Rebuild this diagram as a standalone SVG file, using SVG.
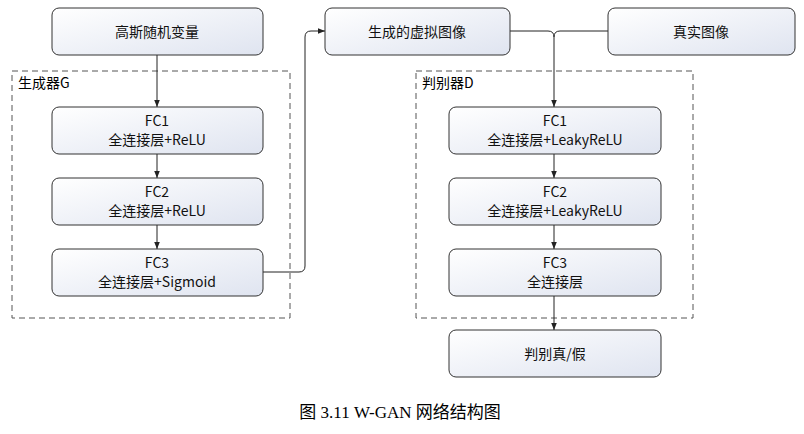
<svg xmlns="http://www.w3.org/2000/svg" width="804" height="434" viewBox="0 0 804 434">
<defs>
<linearGradient id="g" x1="0" y1="0" x2="1" y2="1"><stop offset="0" stop-color="#ffffff"/><stop offset="1" stop-color="#dfe4f0"/></linearGradient>
<marker id="a" viewBox="0 0 10 10" refX="10" refY="5" markerWidth="7" markerHeight="7" orient="auto"><path d="M0,1 L10,5 L0,9 z" fill="#222"/></marker>
<style>
.n{fill:url(#g);stroke:#333;stroke-width:1}
.t{font-family:"Noto Sans CJK SC","Liberation Sans",sans-serif;font-size:14px;fill:#111;text-anchor:middle}
.d{fill:none;stroke:#555;stroke-dasharray:6,4;stroke-width:1}
.c{fill:none;stroke:#222;stroke-width:1}
</style>
</defs>
<rect class="d" x="12" y="71" width="278" height="247"/>
<text x="18" y="88" style="font-family:'Noto Sans CJK SC',sans-serif;font-size:14px">生成器G</text>
<rect class="d" x="416" y="71" width="277" height="247"/>
<text x="422" y="88" style="font-family:'Noto Sans CJK SC',sans-serif;font-size:14px">判别器D</text>
<g id="connectors">
<path class="c" d="M157,55 V107" marker-end="url(#a)"/>
<path class="c" d="M157,154 V178" marker-end="url(#a)"/>
<path class="c" d="M157,225 V249" marker-end="url(#a)"/>
<path class="c" d="M263,272 H299 Q305,272 305,266 V37 Q305,31 311,31 H325" marker-end="url(#a)"/>
<path class="c" d="M510,31 H548 Q554,31 554,37 V107" marker-end="url(#a)"/>
<path class="c" d="M608,31 H560 Q554,31 554,37"/>
<path class="c" d="M554,154 V178" marker-end="url(#a)"/>
<path class="c" d="M554,225 V249" marker-end="url(#a)"/>
<path class="c" d="M554,296 V330" marker-end="url(#a)"/>
</g>
<g id="gauss"><rect class="n" x="52" y="8" width="211" height="47" rx="7"/><text class="t" x="157" y="37">高斯随机变量</text></g>
<g id="g1"><rect class="n" x="52" y="107" width="211" height="47" rx="7"/><text class="t" x="157" y="126">FC1</text><text class="t" x="157" y="145">全连接层+ReLU</text></g>
<g id="g2"><rect class="n" x="52" y="178" width="211" height="47" rx="7"/><text class="t" x="157" y="197">FC2</text><text class="t" x="157" y="216">全连接层+ReLU</text></g>
<g id="g3"><rect class="n" x="52" y="249" width="211" height="47" rx="7"/><text class="t" x="157" y="268">FC3</text><text class="t" x="157" y="287">全连接层+Sigmoid</text></g>
<g id="fake"><rect class="n" x="325" y="8" width="185" height="47" rx="7"/><text class="t" x="417" y="37">生成的虚拟图像</text></g>
<g id="real"><rect class="n" x="608" y="8" width="187" height="47" rx="7"/><text class="t" x="701" y="37">真实图像</text></g>
<g id="d1"><rect class="n" x="449" y="107" width="212" height="47" rx="7"/><text class="t" x="555" y="126">FC1</text><text class="t" x="555" y="145">全连接层+LeakyReLU</text></g>
<g id="d2"><rect class="n" x="449" y="178" width="212" height="47" rx="7"/><text class="t" x="555" y="197">FC2</text><text class="t" x="555" y="216">全连接层+LeakyReLU</text></g>
<g id="d3"><rect class="n" x="449" y="249" width="212" height="47" rx="7"/><text class="t" x="555" y="268">FC3</text><text class="t" x="555" y="287">全连接层</text></g>
<g id="out"><rect class="n" x="449" y="330" width="212" height="47" rx="7"/><text class="t" x="555" y="359">判别真/假</text></g>
<text x="400" y="418" style="font-family:'Liberation Serif','Noto Sans CJK SC',serif;font-size:17px;text-anchor:middle">图 3.11 W-GAN 网络结构图</text>
</svg>
